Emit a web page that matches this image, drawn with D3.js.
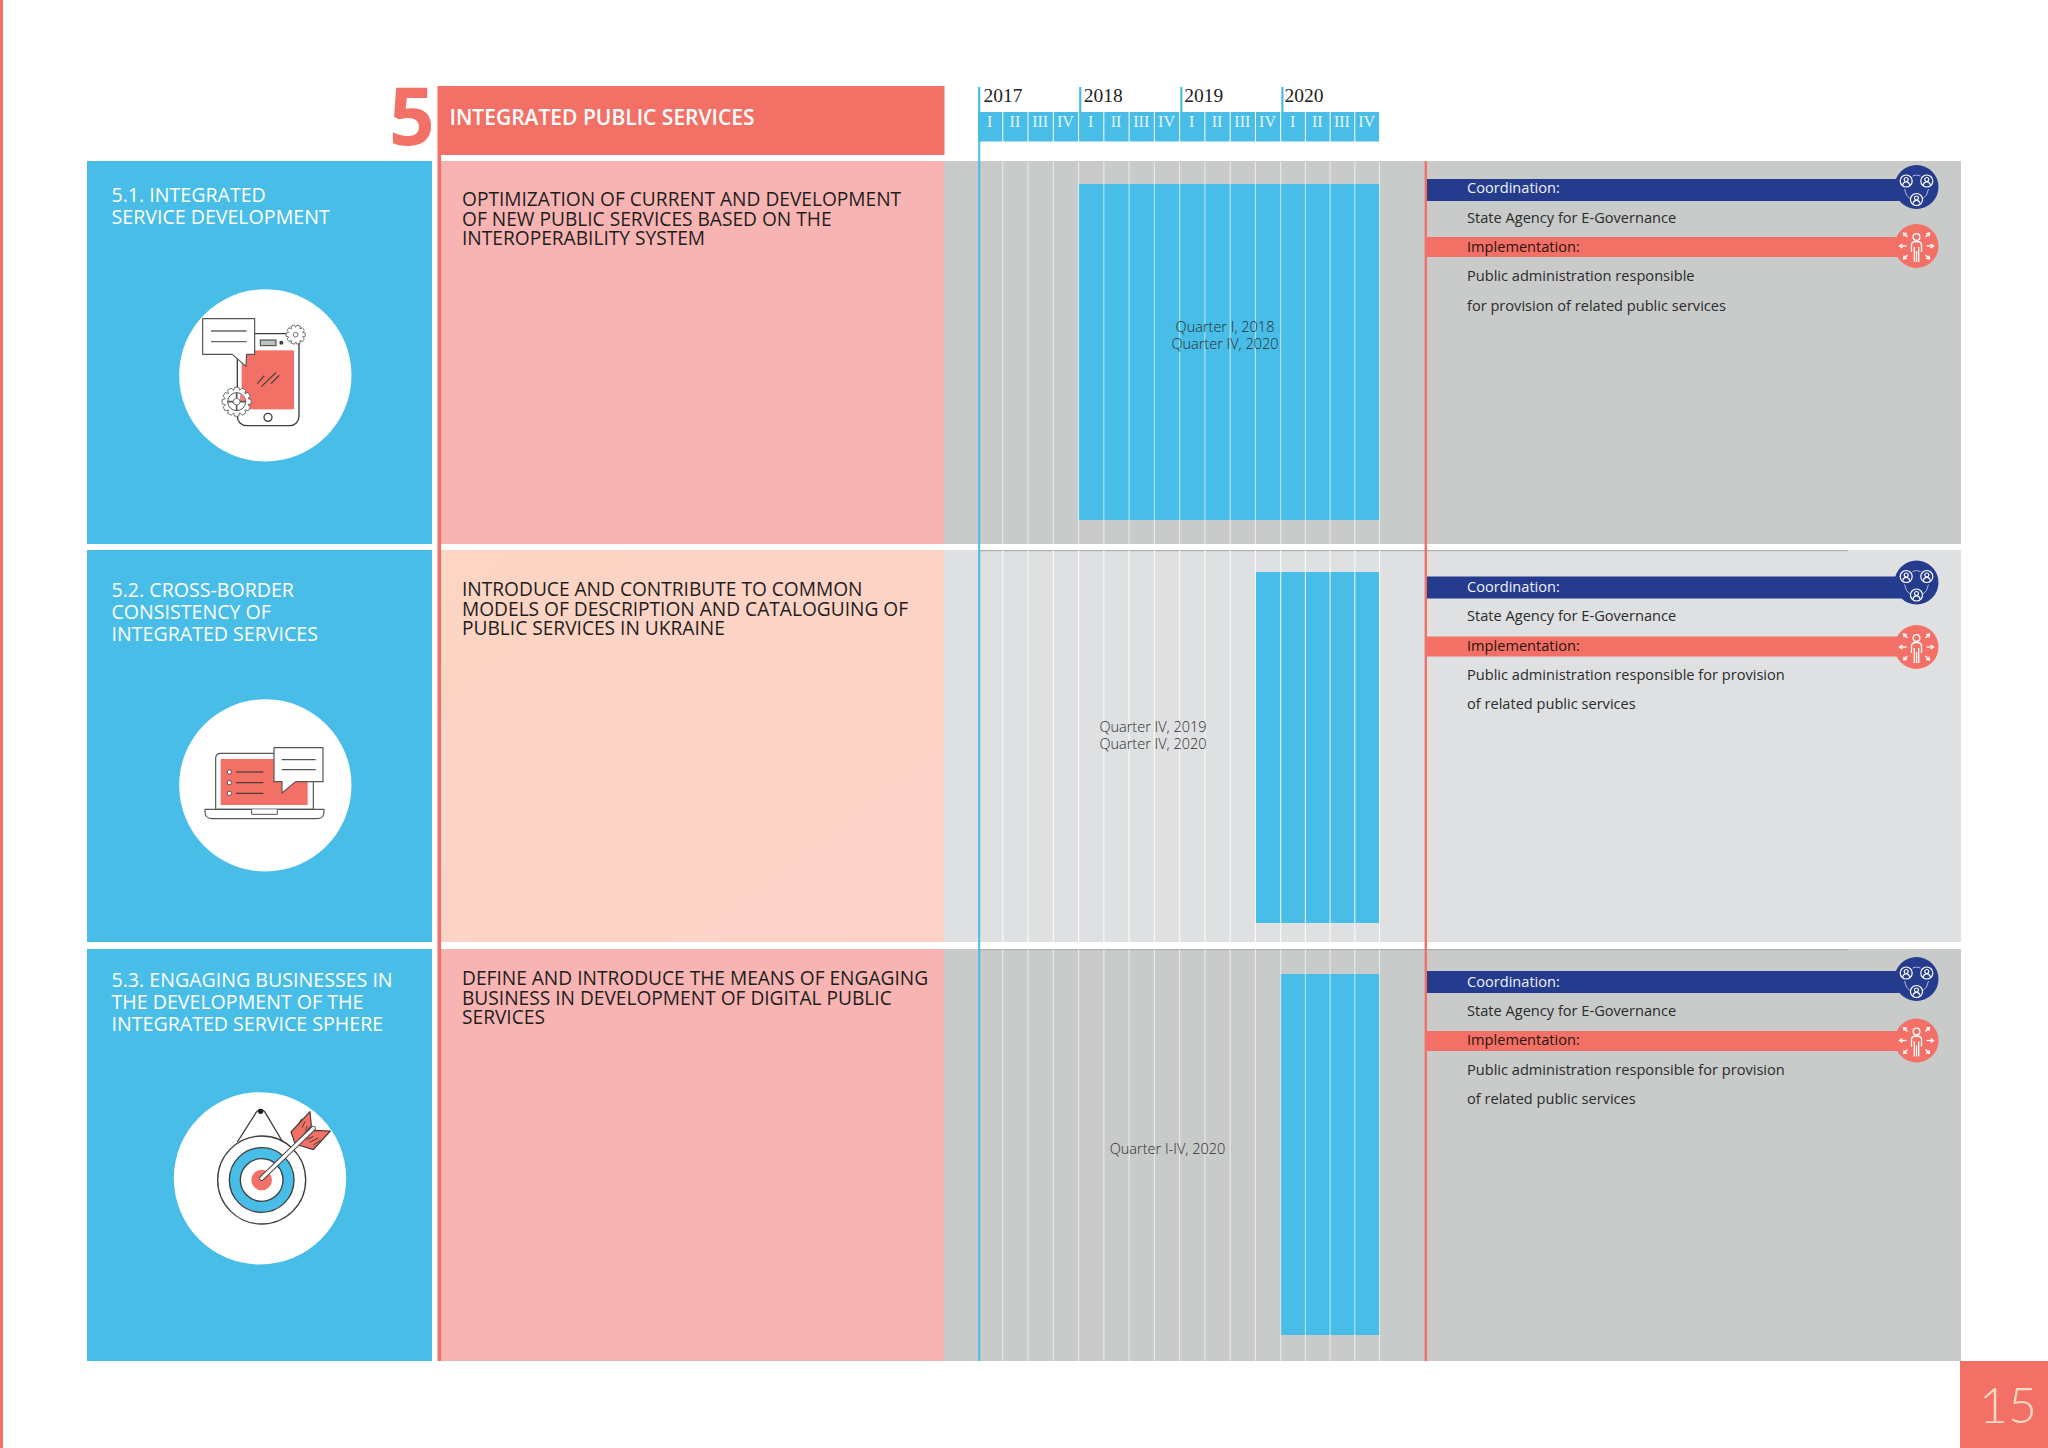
<!DOCTYPE html>
<html><head><meta charset="utf-8">
<script src="https://cdn.jsdelivr.net/npm/d3@7"></script>
<style>html,body{margin:0;padding:0;background:#fff}svg{display:block}</style>
</head><body><div id="c"></div>
<script>
// ---- data ----
const sectionNumber = "5";
const sectionTitle = "INTEGRATED PUBLIC SERVICES";
const pageNumber = "15";
const years = ["2017","2018","2019","2020"];
const quarterNames = ["I","II","III","IV"];
const rowIds = ["5.1","5.2","5.3"];
const rowTitles = [
  ["5.1. INTEGRATED","SERVICE DEVELOPMENT"],
  ["5.2. CROSS-BORDER","CONSISTENCY OF","INTEGRATED SERVICES"],
  ["5.3. ENGAGING BUSINESSES IN","THE DEVELOPMENT OF THE","INTEGRATED SERVICE SPHERE"]
];
const rowGoals = [
  ["OPTIMIZATION OF CURRENT AND DEVELOPMENT","OF NEW PUBLIC SERVICES BASED ON THE","INTEROPERABILITY SYSTEM"],
  ["INTRODUCE AND CONTRIBUTE TO COMMON","MODELS OF DESCRIPTION AND CATALOGUING OF","PUBLIC SERVICES IN UKRAINE"],
  ["DEFINE AND INTRODUCE THE MEANS OF ENGAGING","BUSINESS IN DEVELOPMENT OF DIGITAL PUBLIC","SERVICES"]
];
const startQuarter = [4, 11, 12];   // index of first quarter (2017 I = 0)
const endQuarter   = [16, 16, 16];  // index after the last quarter
const dateLabels = [
  ["Quarter I, 2018","Quarter IV, 2020"],
  ["Quarter IV, 2019","Quarter IV, 2020"],
  ["Quarter I-IV, 2020"]
];
const coordinators = ["State Agency for E-Governance","State Agency for E-Governance","State Agency for E-Governance"];
const implementers = [
  ["Public administration responsible","for provision of related public services"],
  ["Public administration responsible for provision","of related public services"],
  ["Public administration responsible for provision","of related public services"]
];
const coordinationLabel = "Coordination:";
const implementationLabel = "Implementation:";

// ---- layout ----
const W=2048,H=1448;
const BLUE="#48bde7",RED="#f37066",NAVY="#253b8d",INK="#2b2b2b";
const FONT="'Open Sans',sans-serif", SERIF="'Liberation Serif',serif";
const rowTop=[161,550,949], rowBottom=[544,942,1361];
const rowPink=["#f8b4b2","url(#pink2)","#f8b4b2"], rowGray=["#c9caca","#dfe0e1","#c9caca"];
const barInset=[[23,24],[22,19],[25,26]];
const titleBase=[201.7,597,987], goalBase=[206,596,985];
const dateY=[327,727,1149], dateX=[1225,1153,1167.5];
const bandY=[[179,201,193.3,237,257],[576.5,598.5,592,636.5,656.5],[971,993,986.7,1031,1051]];
const circleY=[[187,246],[582.5,647],[979,1040.5]];
const iconOrigin=[[150,271],[150,681],[150,1071]];
const iconCircle=[[346,313],[346,313],[330,322]];

const svg=d3.select("#c").append("svg").attr("width",W).attr("height",H).attr("viewBox",`0 0 ${W} ${H}`);
const defs=svg.append("defs");
const lg=defs.append("linearGradient").attr("id","pink2").attr("x1",0).attr("y1",0).attr("x2",1).attr("y2",1);
lg.append("stop").attr("offset",0).attr("stop-color","#fcd5c3");
lg.append("stop").attr("offset",.5).attr("stop-color","#fdd3c6");
lg.append("stop").attr("offset",1).attr("stop-color","#fdd1c8");
const x=d3.scaleLinear().domain([0,12,16]).range([977.5,1280.7,1379.5]);
const quarterIdx=d3.range(16);

function rect(g,x0,y0,w,h,fill){return g.append("rect").attr("x",x0).attr("y",y0).attr("width",w).attr("height",h).attr("fill",fill);}
function lines(g,arr,x0,y0,dy,size,fill,weight,ls,family){
  return g.selectAll(null).data(arr).join("text").attr("x",x0).attr("y",(d,i)=>y0+i*dy)
   .attr("font-family",family||FONT).attr("font-size",size).attr("fill",fill).attr("font-weight",weight||400)
   .attr("letter-spacing",ls||0).text(d=>d);
}

rect(svg,0,0,3,H,RED);

// header
svg.append("text").attr("x",389).attr("y",145).attr("font-family",FONT).attr("font-weight",700).attr("font-size",80).attr("fill",RED).text(sectionNumber);
rect(svg,437.5,86,507,69,RED);
lines(svg,[sectionTitle],449.5,125,0,21,"#fff",600,0);

// rows
rowIds.forEach((id,i)=>{
  const t=rowTop[i],b=rowBottom[i];
  rect(svg,87,t,345,b-t,BLUE);
  rect(svg,441,t,503,b-t,rowPink[i]);
  rect(svg,944,t,1017,b-t,rowGray[i]);
  lines(svg,rowTitles[i],111.5,titleBase[i],21.8,19.6,"#fff",500,0);
  lines(svg,rowGoals[i],462,goalBase[i],19.6,19.15,"#1d1d1d",400,0);
});
svg.selectAll(".topedge").data([1,2]).join("rect").attr("x",979).attr("y",i=>rowTop[i]).attr("width",869).attr("height",1.2).attr("fill","#aeaeae");

// bars
const bars=svg.append("g");
rowIds.forEach((id,i)=>{
  bars.append("rect").attr("x",x(startQuarter[i])).attr("width",x(endQuarter[i])-x(startQuarter[i]))
    .attr("y",rowTop[i]+barInset[i][0]).attr("height",rowBottom[i]-rowTop[i]-barInset[i][0]-barInset[i][1]).attr("fill",BLUE);
});
// grid per row
rowIds.forEach((id,i)=>{
  svg.append("g").selectAll("line").data(d3.range(1,17)).join("line")
    .attr("x1",d=>x(d)).attr("x2",d=>x(d)).attr("y1",rowTop[i]).attr("y2",rowBottom[i])
    .attr("stroke","#fff").attr("stroke-opacity",i==1?.85:.6).attr("stroke-width",1.1);
});
// main verticals
rect(svg,437.5,155,3.5,1206,RED);
rect(svg,978.2,141,2,1220,BLUE);
rect(svg,1424.6,161,2.4,1200,RED);

// timeline head
const q=svg.append("g");
q.selectAll("rect").data(quarterIdx).join("rect").attr("x",d=>x(d)+.5).attr("width",d=>x(d+1)-x(d)-1)
  .attr("y",112).attr("height",29.5).attr("fill",BLUE);
q.selectAll("text").data(quarterIdx).join("text").attr("x",d=>(x(d)+x(d+1))/2-.5).attr("y",127)
  .attr("text-anchor","middle").attr("font-family",SERIF).attr("font-size",16).attr("fill","#e3f4fb").text(d=>quarterNames[d%4]);
const yg=svg.append("g");
yg.selectAll("rect").data(years).join("rect").attr("x",(d,i)=>x(i*4)+.6).attr("y",87).attr("width",2.2).attr("height",26).attr("fill",BLUE);
yg.selectAll("text").data(years).join("text").attr("x",(d,i)=>x(i*4)+6-i*.7).attr("y",101.8).attr("font-family",SERIF).attr("font-size",19.5).attr("fill","#222").text(d=>d);

// date labels
rowIds.forEach((id,i)=>{
  svg.append("g").selectAll("text").data(dateLabels[i]).join("text").attr("x",dateX[i]).attr("y",(d,k)=>dateY[i]+5+k*17)
   .attr("text-anchor","middle").attr("font-family",FONT).attr("font-size",14.5).attr("font-weight",300).attr("fill","#2e2e2e").text(d=>d);
});

// responsibility bands
rowIds.forEach((id,i)=>{
  const [a0,a1,b0,c0,c1]=bandY[i];
  rect(svg,1427,a0,490,a1-a0,NAVY);
  rect(svg,1427,c0,490,c1-c0,RED);
  const base=b0, dy=29.35;
  lines(svg,[coordinationLabel],1467,base,0,14.6,"#eef3fb",400);
  lines(svg,[coordinators[i]],1467,base+dy,0,14.6,INK,400);
  lines(svg,[implementationLabel],1467,base+2*dy,0,14.6,"#2a1412",400);
  lines(svg,implementers[i],1467,base+3*dy,dy,14.6,INK,400);
  coordIcon(svg.append("g").attr("transform",`translate(1916.5,${circleY[i][0]})`));
  implIcon(svg.append("g").attr("transform",`translate(1916.5,${circleY[i][1]})`));
});

function person(g,cx,cy){
  const s=g.append("g").attr("transform",`translate(${cx},${cy})`).attr("fill","none").attr("stroke","#fff").attr("stroke-width",1.2);
  s.append("circle").attr("r",6);
  s.append("circle").attr("cy",-1.5).attr("r",2);
  s.append("path").attr("d","M-3.4,4 Q-3,0.8 0,0.8 Q3,0.8 3.4,4");
}
function coordIcon(g){
  g.append("circle").attr("r",22).attr("fill",NAVY);
  person(g,-10.3,-6);person(g,10.3,-6);person(g,0,12.5);
  g.append("path").attr("d","M-4,-11 Q0,-13 4,-11 M-12,2 Q-11,9 -6,12 M12,2 Q11,9 6,12").attr("fill","none").attr("stroke","#cfd8ee").attr("stroke-width",.8);
}
function implIcon(g){
  g.append("circle").attr("r",22).attr("fill",RED);
  const s=g.append("g").attr("fill","none").attr("stroke","#fff").attr("stroke-width",1.3);
  s.append("circle").attr("cy",-9).attr("r",3.4);
  s.append("path").attr("d","M-5,6 V-1 Q-5,-4.5 0,-4.5 Q5,-4.5 5,-1 V6 M-2.2,1 V16 M0,5 V16 M2.2,1 V16");
  const arrows=[[-13,-13,-9,-9],[13,-13,9,-9],[-17,0,-10,0],[17,0,10,0],[-13,13,-9,9],[13,13,9,9]];
  arrows.forEach(a=>{
    s.append("line").attr("x1",a[2]).attr("y1",a[3]).attr("x2",a[0]).attr("y2",a[1]);
    const ang=Math.atan2(a[1]-a[3],a[0]-a[2]);
    const p=(r,da)=>[a[0]+r*Math.cos(ang+Math.PI+da),a[1]+r*Math.sin(ang+Math.PI+da)];
    s.append("path").attr("d",d3.line()([p(3.5,.6),[a[0],a[1]],p(3.5,-.6)]));
  });
}

// round icons, drawn in a 3x local space
function gearPath(cx,cy,ro,ri,n){
  const pts=[];
  for(let k=0;k<n;k++){
    const s=2*Math.PI*k/n,w=Math.PI/n;
    [[ri,-w],[ro,-w*.55],[ro,w*.55],[ri,w*.95]].forEach(([r,a])=>pts.push([cx+r*Math.cos(s+a),cy+r*Math.sin(s+a)]));
  }
  return d3.line()(pts)+"Z";
}
const DK="#3d3d3d";
const icons=iconOrigin.map((o,i)=>{
  const g=svg.append("g").attr("transform",`translate(${o[0]},${o[1]}) scale(${1/3})`);
  g.append("circle").attr("cx",iconCircle[i][0]).attr("cy",iconCircle[i][1]).attr("r",258.5).attr("fill","#fff");
  return g;
});
function path(g,d,fill,stroke,sw){return g.append("path").attr("d",d).attr("fill",fill).attr("stroke",stroke).attr("stroke-width",sw).attr("stroke-linejoin","round");}
// phone
(function(g){
  g.append("rect").attr("x",262).attr("y",188).attr("width",185).attr("height",276).attr("rx",28).attr("fill","#fff").attr("stroke",DK).attr("stroke-width",4);
  g.append("rect").attr("x",275).attr("y",238).attr("width",157).attr("height",177).attr("fill",RED);
  g.append("rect").attr("x",331).attr("y",207).attr("width",47).attr("height",17).attr("fill","#b9c5c5").attr("stroke",DK).attr("stroke-width",3);
  g.append("circle").attr("cx",394).attr("cy",215).attr("r",6).attr("fill",DK);
  g.append("circle").attr("cx",354).attr("cy",439).attr("r",12).attr("fill","#fff").attr("stroke",DK).attr("stroke-width",4);
  path(g,"M322,338L343,314M334,347L378,305M363,338L388,313","none",DK,3.5);
  path(g,"M158,143H314V250H290L288,286L247,250H158Z","#fff","#555",3.5);
  path(g,"M183,180H290M183,212H290","none","#666",4);
  path(g,gearPath(437,191,29,22,10),"#fff","#555",2.5);
  g.append("circle").attr("cx",437).attr("cy",191).attr("r",7).attr("fill","#fff").attr("stroke","#555").attr("stroke-width",2.5);
  path(g,gearPath(260,392,44,35,12),"#fff","#555",2.5);
  g.append("circle").attr("cx",260).attr("cy",392).attr("r",27).attr("fill","#fff").attr("stroke","#555").attr("stroke-width",3);
  path(g,"M270,370A27,27 0 0 1 287,392H270V382Z",RED,"none",0).attr("opacity",.85);
  path(g,"M233,392H250M270,392H287M260,365V382M260,402V419","none","#555",5);
  g.append("circle").attr("cx",260).attr("cy",392).attr("r",10).attr("fill","#fff").attr("stroke","#555").attr("stroke-width",2.5);
})(icons[0]);
// laptop
(function(g){
  path(g,"M197,385V232Q197,217 212,217H490V385Z","#fff","#555",3.5);
  g.append("rect").attr("x",212).attr("y",234).attr("width",261).attr("height",138).attr("fill",RED);
  path(g,"M165,385H522V392Q522,413 500,413H187Q165,413 165,392Z","#fff","#555",3.5);
  path(g,"M305,385V400H382V385","#fff","#555",3);
  [273,305,337].forEach(y=>{
    g.append("circle").attr("cx",238).attr("cy",y).attr("r",6.5).attr("fill","#fff").attr("stroke",DK).attr("stroke-width",2.5);
    path(g,`M258,${y}H340`,"none",DK,3.5);
  });
  path(g,"M372,200H519V302H437L396,336V302H372Z","#fff","#555",3.5);
  path(g,"M395,236H497M395,266H497","none","#555",3.5);
})(icons[1]);
// target
(function(g){
  path(g,"M262,213L320,122Q332,108 344,122L398,213","none",DK,4);
  g.append("circle").attr("cx",332).attr("cy",121).attr("r",8).attr("fill","#222");
  [[132,"#fff"],[97,BLUE],[64,"#fff"],[31,RED]].forEach(([r,f],k)=>{
    g.append("circle").attr("cx",335).attr("cy",327).attr("r",r).attr("fill",f).attr("stroke",DK).attr("stroke-width",k==3?0:4);
  });
  path(g,"M423,183L480,122L484,165L436,220Z",RED,DK,3.5);
  path(g,"M445,222L490,178L541,180L490,236Z",RED,DK,3.5);
  path(g,"M446,160L455,143M456,170L465,152M466,178L472,165M470,206L490,196M478,214L505,201M490,222L512,208","none",DK,3);
  path(g,"M335,322L490,172","none",DK,15).attr("stroke-linecap","round");
  path(g,"M335,322L490,172","none","#fff",10).attr("stroke-linecap","round");
})(icons[2]);

// page number
rect(svg,1960,1361,88,87,RED);
svg.append("text").attr("x",1979).attr("y",1423).attr("font-family","Lato,sans-serif").attr("font-weight",300).attr("font-size",50).attr("fill","#fbd9c4").text(pageNumber);
</script></body></html>
